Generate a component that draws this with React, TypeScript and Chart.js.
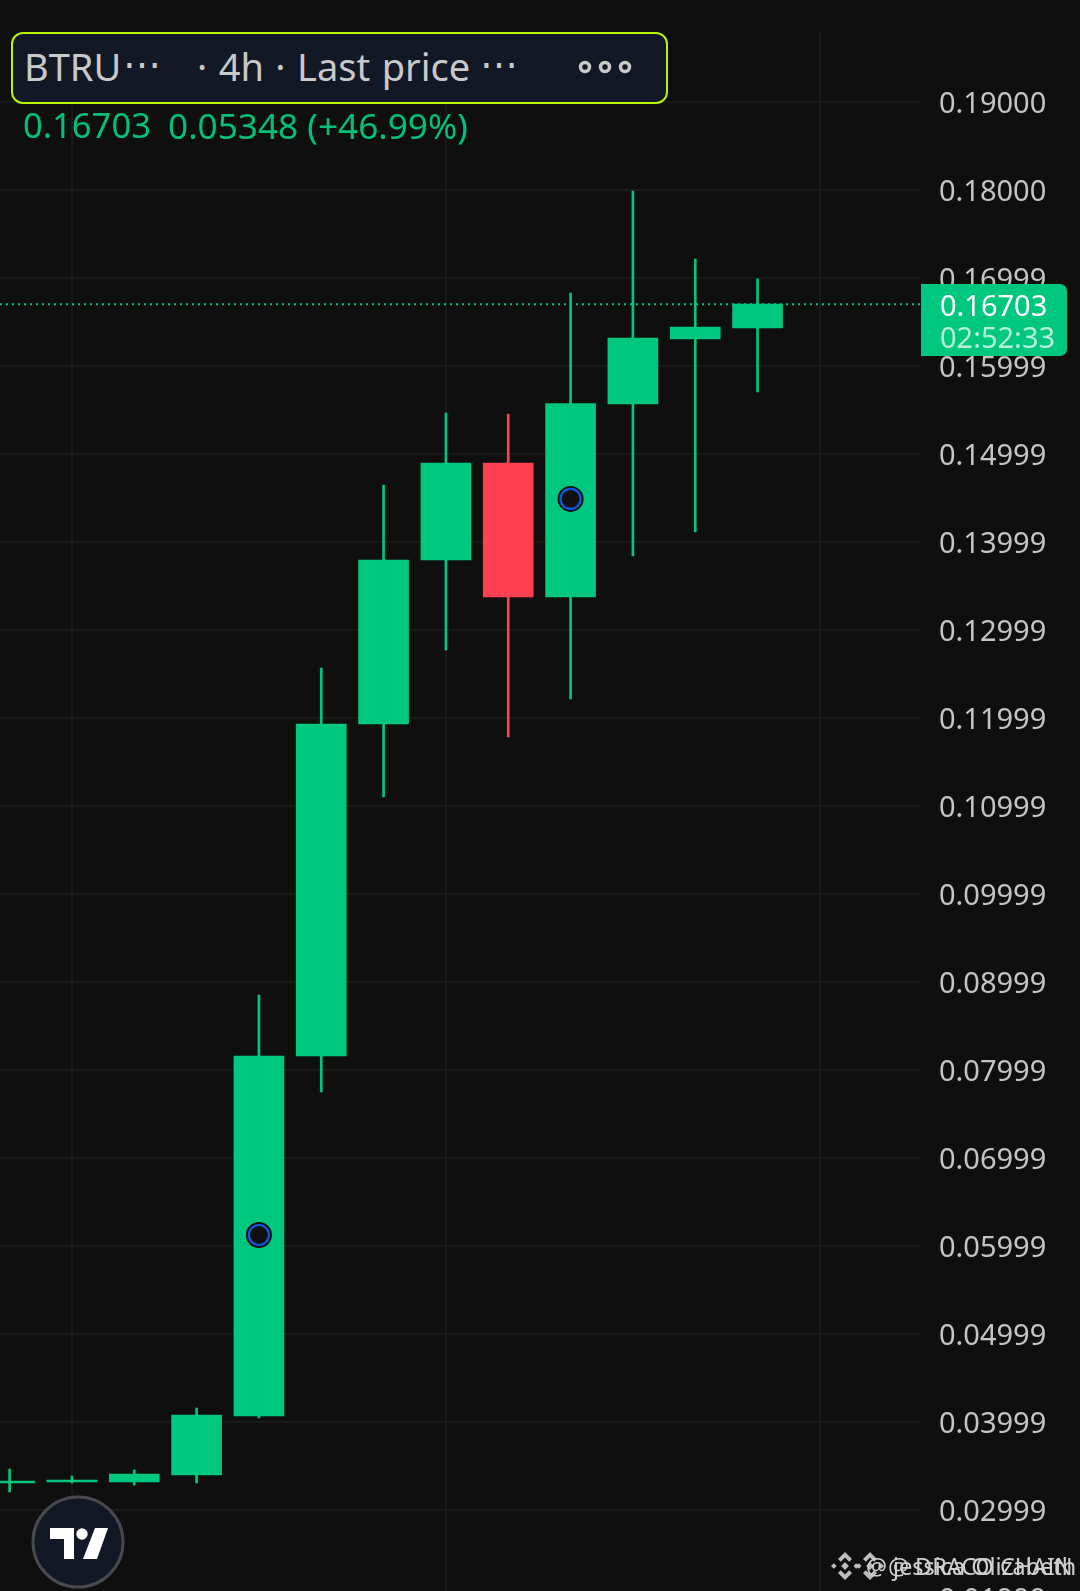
import React, { useEffect, useRef } from "react";
import { Chart, registerables } from "chart.js";

Chart.register(...registerables);

const candleIndex = [0, 1, 2, 3, 4, 5, 6, 7, 8, 9, 10, 11, 12];
const opens = [0.03307, 0.03318, 0.03318, 0.03398, 0.04068, 0.08159, 0.11932, 0.13795, 0.14898, 0.13375, 0.15568, 0.16307, 0.16432];
const closes = [0.0333, 0.03341, 0.03409, 0.0408, 0.08159, 0.11932, 0.13795, 0.14898, 0.13375, 0.15574, 0.16318, 0.16443, 0.16703];
const highs = [0.03466, 0.03386, 0.03455, 0.04159, 0.08852, 0.12568, 0.14648, 0.15466, 0.15455, 0.1683, 0.17989, 0.17216, 0.16989];
const lows = [0.03205, 0.03307, 0.03284, 0.03307, 0.04045, 0.0775, 0.11102, 0.12773, 0.11784, 0.12216, 0.13841, 0.14114, 0.15705];
const markerCandles = [4, 9];
const markerPrices = [0.06125, 0.1449];
const lastPrice = 0.16703;
const verticalGridCandles = [1, 7, 13];
const tickValues = [0.19, 0.18, 0.17, 0.16, 0.15, 0.14, 0.13, 0.12, 0.11, 0.1, 0.09, 0.08, 0.07, 0.06, 0.05, 0.04, 0.03, 0.02];
const tickLabels = ["0.19000", "0.18000", "0.16999", "0.15999", "0.14999", "0.13999", "0.12999", "0.11999", "0.10999", "0.09999", "0.08999", "0.07999", "0.06999", "0.05999", "0.04999", "0.03999", "0.02999", "0.01999"];

const GREEN = "#00c77f";
const RED = "#ff4050";
const FONT = "'Noto Sans', sans-serif";
const X_MIN = -9.6 / 62.33;
const X_MAX = (921 - 9.6) / 62.33;
const Y_MAX = 0.03 + (1510 - 32) / 8800;
const Y_MIN = 0.03 - (1640 - 1510) / 8800;

const abs = (left: number, top: number, extra: React.CSSProperties = {}): React.CSSProperties => ({
  position: "absolute",
  left,
  top,
  whiteSpace: "pre",
  fontFamily: FONT,
  ...extra,
});

function BinanceMark({ left, top }: { left: number; top: number }) {
  return (
    <svg style={{ position: "absolute", left, top }} width="28" height="28" viewBox="0 0 26 26" fill="#bdbdbd">
      <path d="M13 0l6.5 6.5-2.6 2.6L13 5.2 9.1 9.1 6.5 6.5zM13 26l-6.5-6.5 2.6-2.6 3.9 3.9 3.9-3.9 2.6 2.6zM0 13l2.6-2.6L5.2 13l-2.6 2.6zM26 13l-2.6 2.6-2.6-2.6 2.6-2.6zM13 9.4l3.6 3.6-3.6 3.6L9.4 13z" />
    </svg>
  );
}

export default function App() {
  const ref = useRef<HTMLCanvasElement | null>(null);

  useEffect(() => {
    if (!ref.current) return;
    const colors = opens.map((o, i) => (closes[i] >= o ? GREEN : RED));
    const chart = new Chart(ref.current, {
      type: "bar",
      data: {
        datasets: [
          {
            type: "scatter",
            label: "marker centre",
            data: markerCandles.map((c, i) => ({ x: c, y: markerPrices[i] })),
            pointRadius: 10,
            pointBorderWidth: 2.2,
            pointBackgroundColor: "#0f0f0f",
            pointBorderColor: "#0b5ae0",
            pointHoverRadius: 10,
          },
          {
            type: "scatter",
            label: "marker halo",
            data: markerCandles.map((c, i) => ({ x: c, y: markerPrices[i] })),
            pointRadius: 13,
            pointBorderWidth: 0,
            pointBackgroundColor: "#0f0f0f",
            pointHoverRadius: 13,
          },
          {
            type: "line",
            label: "last price",
            data: [
              { x: X_MIN, y: lastPrice },
              { x: X_MAX, y: lastPrice },
            ],
            borderColor: GREEN,
            borderWidth: 2,
            borderDash: [2, 4],
            pointRadius: 0,
          },
          {
            type: "bar",
            label: "body",
            data: candleIndex.map((c, i) => ({ x: c, y: [opens[i], closes[i]] })) as any,
            backgroundColor: colors,
            barThickness: 50,
            grouped: false,
            borderWidth: 0,
          },
          {
            type: "bar",
            label: "wick",
            data: candleIndex.map((c, i) => ({ x: c, y: [lows[i], highs[i]] })) as any,
            backgroundColor: colors,
            barThickness: 2,
            grouped: false,
            borderWidth: 0,
          },
        ],
      },
      options: {
        animation: false,
        responsive: false,
        devicePixelRatio: 1,
        layout: { autoPadding: false, padding: { top: 32, left: 0, right: 0, bottom: 0 } },
        plugins: { legend: { display: false }, tooltip: { enabled: false } },
        scales: {
          x: {
            type: "linear",
            offset: false,
            min: X_MIN,
            max: X_MAX,
            afterBuildTicks: (s: any) => {
              s.ticks = verticalGridCandles.map((value) => ({ value }));
            },
            afterFit: (s: any) => {
              s.height = 0;
              s.paddingLeft = 0;
              s.paddingRight = 0;
              s.paddingTop = 0;
              s.paddingBottom = 0;
            },
            ticks: { display: false },
            grid: { color: "#191919", lineWidth: 2, drawTicks: false, offset: false },
            border: { display: false },
          },
          y: {
            type: "linear",
            position: "right",
            min: Y_MIN,
            max: Y_MAX,
            afterBuildTicks: (s: any) => {
              s.ticks = tickValues.map((value) => ({ value }));
            },
            afterFit: (s: any) => {
              s.width = 159;
              s.paddingLeft = 0;
              s.paddingRight = 0;
              s.paddingTop = 0;
              s.paddingBottom = 0;
            },
            ticks: {
              autoSkip: false,
              padding: 18,
              labelOffset: 3,
              color: "#c4c4c4",
              font: { family: "Noto Sans", size: 29 },
              callback: (_v: any, i: number) => tickLabels[i],
            },
            grid: { color: "#191919", lineWidth: 2, drawTicks: false },
            border: { display: false },
          },
        },
      } as any,
    });
    return () => chart.destroy();
  }, []);

  return (
    <div style={{ position: "absolute", left: 0, top: 0, width: 1080, height: 1591, overflow: "hidden", background: "#0f0f0f" }}>
      <canvas ref={ref} width={1080} height={1640} style={{ position: "absolute", left: 0, top: 0, width: 1080, height: 1640 }} />

      <div style={{ position: "absolute", left: 11, top: 32, width: 657, height: 72, boxSizing: "border-box", border: "2px solid #b5f500", borderRadius: 12, background: "#131826" }} />
      <div style={abs(24, 38, { fontSize: 38, lineHeight: "56px", color: "#c9c9c9" })}>BTRU</div>
      <div style={abs(123, 38, { fontSize: 38, lineHeight: "50px", color: "#c9c9c9" })}>⋯</div>
      <div style={abs(197, 38, { fontSize: 38, lineHeight: "56px", color: "#c9c9c9", wordSpacing: 1.6 })}>· 4h · Last price</div>
      <div style={abs(480, 38, { fontSize: 38, lineHeight: "50px", color: "#c9c9c9" })}>⋯</div>
      <svg style={{ position: "absolute", left: 576, top: 55 }} width="60" height="24" viewBox="0 0 60 24" fill="none" stroke="#c9c9c9" strokeWidth="3.5">
        <circle cx="9" cy="12" r="4.5" />
        <circle cx="29" cy="12" r="4.5" />
        <circle cx="49" cy="12" r="4.5" />
      </svg>

      <div style={abs(23, 102, { fontSize: 34.6, lineHeight: "46px", color: "#00c07a" })}>0.16703</div>
      <div style={abs(168, 102, { fontSize: 35.2, lineHeight: "46px", color: "#00c07a" })}>0.05348 (+46.99%)</div>

      <div style={{ position: "absolute", left: 921, top: 284, width: 146, height: 72, background: GREEN, borderRadius: "0 7px 7px 0" }} />
      <div style={abs(940, 285, { fontSize: 29, lineHeight: "40px", color: "#ffffff" })}>0.16703</div>
      <div style={abs(940, 317, { fontSize: 29, lineHeight: "40px", color: "#b4f0da" })}>02:52:33</div>

      <svg style={{ position: "absolute", left: 30, top: 1494 }} width="96" height="96" viewBox="0 0 96 96">
        <circle cx="48" cy="48" r="45" fill="#131826" stroke="#47494f" strokeWidth="3" />
        <path d="M20 34h24v31H34V45H20z" fill="#ffffff" />
        <circle cx="52" cy="40" r="5.7" fill="#ffffff" />
        <path d="M65 34h13L67 65H53z" fill="#ffffff" />
      </svg>

      <BinanceMark left={831} top={1552} />
      <BinanceMark left={856} top={1552} />
      <div style={abs(866, 1550, { fontSize: 23.4, lineHeight: "32px", color: "#cfcfcf" })}>@ jessica Olizabeth</div>
      <div style={abs(888, 1550, { fontSize: 23.4, lineHeight: "32px", color: "#cfcfcf" })}>@ DRACO CHAIN</div>
    </div>
  );
}
